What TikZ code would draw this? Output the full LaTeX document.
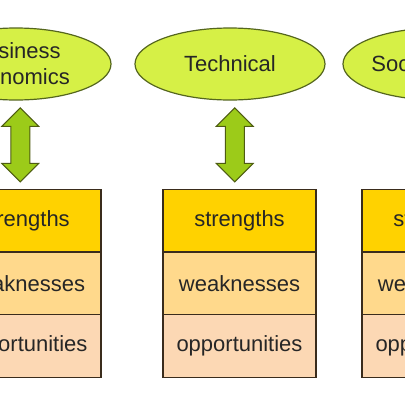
\documentclass[tikz,border=0pt]{standalone}
\usepackage{fontspec}
\setmainfont{Liberation Sans}
\usepackage{tikz}
\usetikzlibrary{arrows.meta, positioning, shapes.geometric, shapes.arrows}
\definecolor{topicfill}{HTML}{D6F046}
\definecolor{topicline}{HTML}{55661E}
\definecolor{linkfill}{HTML}{9CCB19}
\definecolor{linkline}{HTML}{4E5C12}
\definecolor{strfill}{HTML}{FFD200}
\definecolor{weakfill}{HTML}{FFD98C}
\definecolor{oppfill}{HTML}{FCD8B4}
\definecolor{cellline}{HTML}{3A2C1C}
\definecolor{inktext}{HTML}{262626}

\begin{document}
\begin{tikzpicture}[
    x=1pt, y=-1pt,
    every node/.style={font=\fontsize{22}{26}\selectfont, text=inktext},
    topic/.style={ellipse, draw=topicline, fill=topicfill, line width=1.2pt, minimum width=190pt, minimum height=72pt, inner sep=0pt, align=center},
    cell/.style={rectangle, draw=cellline, line width=1.3pt, minimum width=153pt, minimum height=62.7pt, inner sep=0pt, outer sep=0pt},
    link/.style={double arrow, draw=linkline, fill=linkfill, line width=1pt, shape border rotate=90, minimum height=74pt, minimum width=36pt, double arrow head extend=9pt, inner xsep=9pt, inner ysep=9pt}
]
\useasboundingbox (0,0) rectangle (405,405);
\clip (0,0) rectangle (405,405);

\node[topic] (eco) at (16,64) {Business\\Economics};
\node[topic] (tech) at (230,64) {Technical};
\node[topic] (soc) at (438,64) {Socio-cultural};

\node[cell, fill=strfill] (ecoS) at (24.5,220.5) {strengths};
\node[cell, fill=weakfill, below=0pt of ecoS] (ecoW) {weaknesses};
\node[cell, fill=oppfill, below=0pt of ecoW] (ecoO) {opportunities};

\node[cell, fill=strfill] (techS) at (239.5,220.5) {strengths};
\node[cell, fill=weakfill, below=0pt of techS] (techW) {weaknesses};
\node[cell, fill=oppfill, below=0pt of techW] (techO) {opportunities};

\node[cell, fill=strfill] (socS) at (438.5,220.5) {strengths};
\node[cell, fill=weakfill, below=0pt of socS] (socW) {weaknesses};
\node[cell, fill=oppfill, below=0pt of socW] (socO) {opportunities};

\path (eco.south) -- node[link] {} (ecoS.north);
\path (tech.south) -- node[link] {} (techS.north);
\path (soc.south) -- node[link] {} (socS.north);
\end{tikzpicture}
\end{document}
